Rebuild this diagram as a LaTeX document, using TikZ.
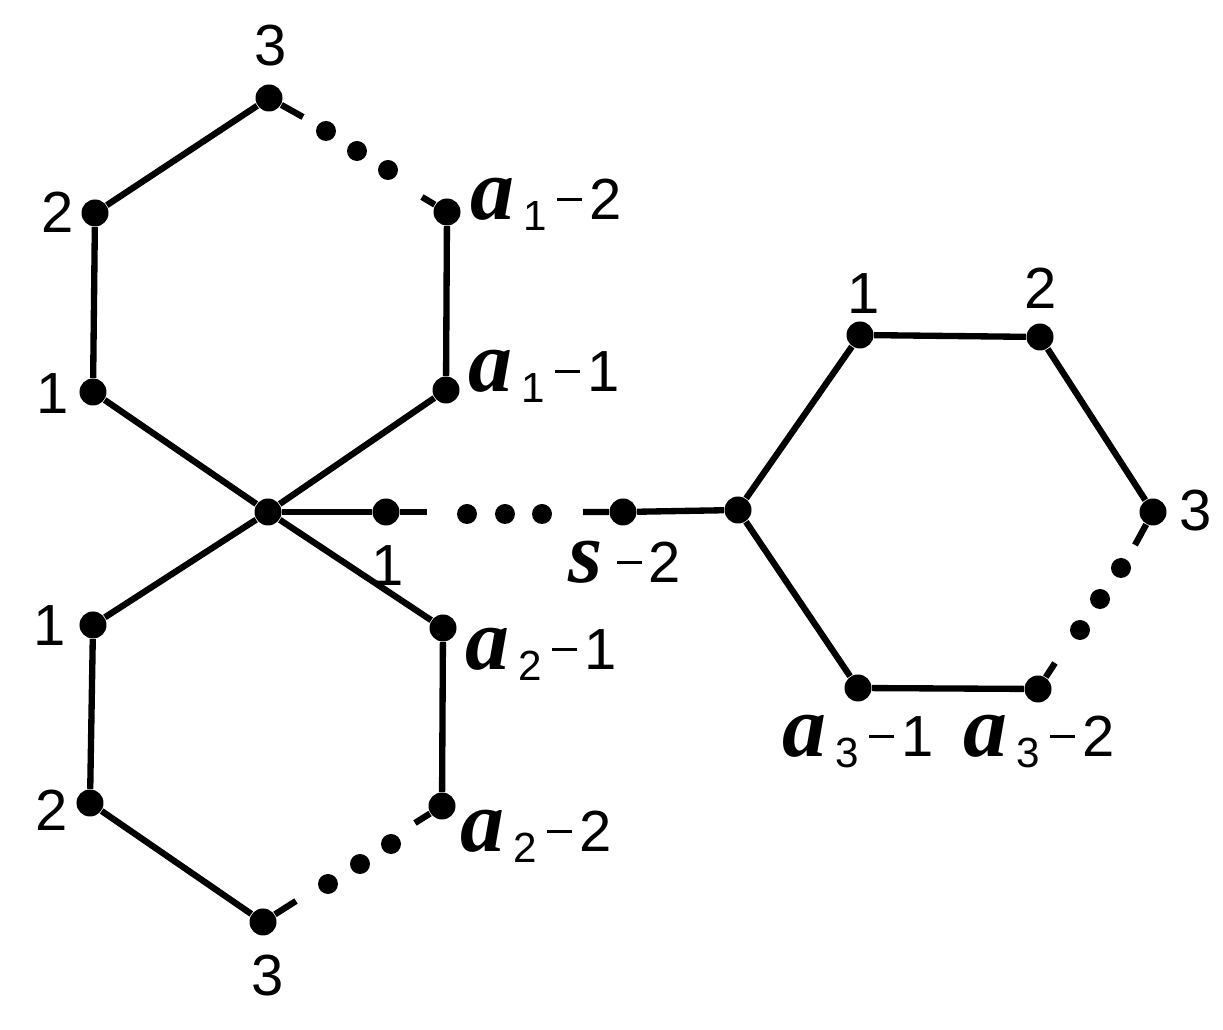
\documentclass[tikz,border=0pt]{standalone}
\usepackage{fontspec}
\setmainfont{Liberation Sans}
\newfontfamily\varfont{Liberation Serif}
\usepackage{tikz}

\newcommand{\mminus}{\rule[5.3pt]{7pt}{0.9pt}}
\newcommand{\alab}[3]{{\varfont\bfseries\itshape\fontsize{25}{25}\selectfont #1}\kern2.5pt\raisebox{-3pt}{\fontsize{12}{12}\selectfont #2}\kern3pt\mminus\kern2pt#3}

\tikzset{
  vert/.style={circle,fill,inner sep=0pt,minimum size=0.27cm},
  sdot/.style={circle,fill,inner sep=0pt,minimum size=0.2cm},
  lab/.style={inner sep=0pt,font=\fontsize{16.5}{16.5}\selectfont},
  edge/.style={line width=1.8pt}
}

\begin{document}
\begin{tikzpicture}
\useasboundingbox (0,0) rectangle (12.23,10.30);
% centre vertex
\node[vert] (0) at (2.68,5.18) {};
% upper cycle
\node[vert] (1) at (0.93,6.38) {};
\node[vert] (2) at (0.95,8.17) {};
\node[vert] (3) at (2.69,9.32) {};
\node[vert] (4) at (4.47,8.18) {};
\node[vert] (5) at (4.46,6.40) {};
\coordinate (u1) at (3.03,9.13);
\coordinate (u2) at (4.22,8.33);
\node[sdot] (d1) at (3.26,8.99) {};
\node[sdot] (d2) at (3.57,8.79) {};
\node[sdot] (d3) at (3.88,8.60) {};
% lower cycle
\node[vert] (6) at (0.93,4.05) {};
\node[vert] (7) at (0.90,2.27) {};
\node[vert] (8) at (2.63,1.08) {};
\node[vert] (9) at (4.42,2.24) {};
\node[vert] (10) at (4.43,4.02) {};
\coordinate (w1) at (2.96,1.29);
\coordinate (w2) at (4.15,2.07);
\node[sdot] (d4) at (3.28,1.46) {};
\node[sdot] (d5) at (3.60,1.66) {};
\node[sdot] (d6) at (3.91,1.86) {};
% path
\node[vert] (11) at (3.86,5.18) {};
\coordinate (p1) at (4.27,5.18);
\node[sdot] (d7) at (4.67,5.16) {};
\node[sdot] (d8) at (5.05,5.16) {};
\node[sdot] (d9) at (5.42,5.16) {};
\coordinate (p2) at (5.83,5.18);
\node[vert] (12) at (6.23,5.18) {};
% right cycle
\node[vert] (13) at (7.38,5.20) {};
\node[vert] (14) at (8.60,6.95) {};
\node[vert] (15) at (10.40,6.93) {};
\node[vert] (16) at (11.53,5.18) {};
\node[vert] (17) at (10.38,3.41) {};
\node[vert] (18) at (8.58,3.42) {};
\coordinate (r1) at (11.35,4.85);
\coordinate (r2) at (10.55,3.67);
\node[sdot] (d10) at (11.21,4.62) {};
\node[sdot] (d11) at (11.00,4.31) {};
\node[sdot] (d12) at (10.80,4.00) {};

\draw[edge] (0)--(1)--(2)--(3)--(u1);
\draw[edge] (u2)--(4)--(5)--(0);
\draw[edge] (0)--(6)--(7)--(8)--(w1);
\draw[edge] (w2)--(9)--(10)--(0);
\draw[edge] (0)--(11)--(p1);
\draw[edge] (p2)--(12)--(13);
\draw[edge] (13)--(14)--(15)--(16)--(r1);
\draw[edge] (r2)--(17)--(18)--(13);

% labels
\node[lab] (l3) at (2.71,9.84) {3};
\node[lab] (l2) at (0.58,8.18) {2};
\node[lab] (l1) at (0.53,6.36) {1};
\node[lab,anchor=base west] (la12) at (4.70,8.10) {\alab{a}{1}{2}};
\node[lab,anchor=base west] (la11) at (4.68,6.38) {\alab{a}{1}{1}};
\node[lab] (m1) at (0.50,4.04) {1};
\node[lab] (m2) at (0.52,2.20) {2};
\node[lab] (m3) at (2.68,0.54) {3};
\node[lab,anchor=base west] (la21) at (4.65,3.60) {\alab{a}{2}{1}};
\node[lab,anchor=base west] (la22) at (4.60,1.78) {\alab{a}{2}{2}};
\node[lab] (q1) at (3.88,4.64) {1};
\node[lab,anchor=base west] (qs) at (5.68,4.47) {{\varfont\bfseries\itshape\fontsize{25}{25}\selectfont s}\kern4pt\mminus\kern2pt2};
\node[lab] (n1) at (8.64,7.36) {1};
\node[lab] (n2) at (10.41,7.42) {2};
\node[lab] (n3) at (11.96,5.19) {3};
\node[lab,anchor=base west] (la31) at (7.82,2.73) {\alab{a}{3}{1}};
\node[lab,anchor=base west] (la32) at (9.63,2.73) {\alab{a}{3}{2}};
\end{tikzpicture}
\end{document}
